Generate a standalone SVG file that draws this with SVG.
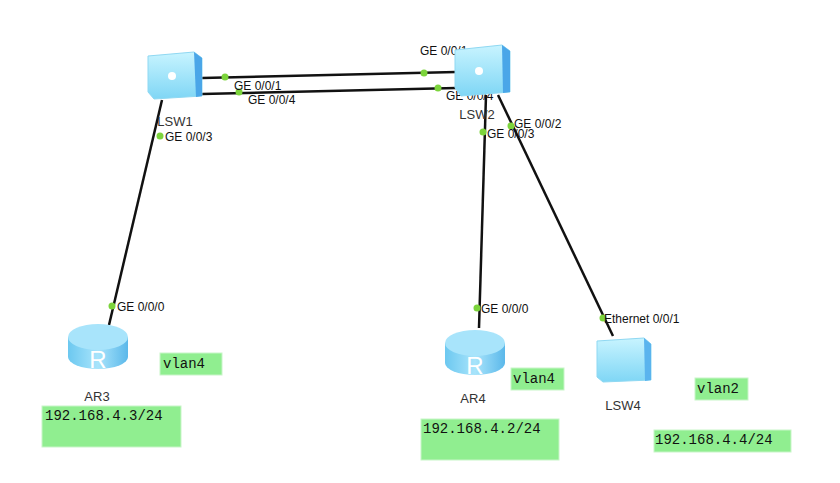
<svg xmlns="http://www.w3.org/2000/svg" width="840" height="483" viewBox="0 0 840 483">
<defs>
<style>
.l{stroke:#111;stroke-width:2.5;fill:none}
.d{fill:#7cd43c}
.t{font-family:"Liberation Sans",Arial,sans-serif;font-size:12px;fill:#111}
.n{font-family:"Liberation Sans",Arial,sans-serif;font-size:13px;fill:#333}
.m{font-family:"Liberation Mono","Courier New",monospace;font-size:14px;fill:#111}
.b{fill:#90ee90;stroke:#c8f5c8}
</style>
<linearGradient id="sw" x1="0" y1="0" x2="0" y2="1"><stop offset="0" stop-color="#c8f4ff"/><stop offset="1" stop-color="#7fd6f5"/></linearGradient>
<linearGradient id="rt" x1="0" y1="0" x2="1" y2="0"><stop offset="0" stop-color="#6cc8f0"/><stop offset="0.5" stop-color="#a8e4fb"/><stop offset="1" stop-color="#5bb8ea"/></linearGradient>
</defs>
<rect width="840" height="483" fill="#fff"/>
<g id="connectors">
<line class="l" x1="202" y1="78" x2="456" y2="72"/>
<line class="l" x1="202" y1="94" x2="456" y2="88"/>
<line class="l" x1="162" y1="100" x2="109" y2="325"/>
<line class="l" x1="486" y1="95" x2="479" y2="328"/>
<line class="l" x1="498" y1="95" x2="613" y2="336"/>
<circle class="d" cx="225" cy="77" r="3.5"/><circle class="d" cx="424" cy="73" r="3.5"/>
<circle class="d" cx="239" cy="92" r="3.5"/><circle class="d" cx="438" cy="88" r="3.5"/>
<circle class="d" cx="160" cy="136" r="3.5"/><circle class="d" cx="112" cy="306" r="3.5"/>
<circle class="d" cx="483" cy="132" r="3.5"/><circle class="d" cx="477" cy="308" r="3.5"/>
<circle class="d" cx="511" cy="126" r="3.5"/><circle class="d" cx="603" cy="318" r="3.5"/>
<text class="t" x="234" y="90">GE 0/0/1</text>
<text class="t" x="248" y="104">GE 0/0/4</text>
<text class="t" x="420" y="55">GE 0/0/1</text>
<text class="t" x="446" y="100">GE 0/0/4</text>
<text class="t" x="165" y="141">GE 0/0/3</text>
<text class="t" x="117" y="311">GE 0/0/0</text>
<text class="t" x="487" y="138">GE 0/0/3</text>
<text class="t" x="514" y="128">GE 0/0/2</text>
<text class="t" x="481" y="313">GE 0/0/0</text>
<text class="t" x="604" y="323">Ethernet 0/0/1</text>
</g>
<g id="LSW1">
<path d="M148 56 L194 52 L202 58 L202 96 L154 99 L148 92 Z" fill="url(#sw)" stroke="#8fd8f2"/>
<path d="M194 52 L202 58 L202 96 L196 97 Z" fill="#4aa6e8"/>
<circle cx="172" cy="76" r="4" fill="#fff"/>
<text class="n" x="175" y="126" text-anchor="middle">LSW1</text>
</g>
<g id="LSW2">
<path d="M455 50 L502 45 L510 51 L510 92 L461 96 L455 88 Z" fill="url(#sw)" stroke="#8fd8f2"/>
<path d="M502 45 L510 51 L510 92 L503 93 Z" fill="#4aa6e8"/>
<circle cx="479" cy="71" r="4" fill="#fff"/>
<text class="n" x="477" y="119" text-anchor="middle">LSW2</text>
</g>
<g id="AR3">
<path d="M68 337 L68 357 A30 12 0 0 0 128 357 L128 337 Z" fill="url(#rt)"/>
<ellipse cx="98" cy="337" rx="30" ry="13" fill="#a8e4fb"/>
<text x="98" y="368" text-anchor="middle" font-family="Liberation Sans,sans-serif" font-size="24" fill="#fff">R</text>
<text class="n" x="97" y="401" text-anchor="middle">AR3</text>
</g>
<g id="AR4">
<path d="M445 343 L445 363 A30 12 0 0 0 505 363 L505 343 Z" fill="url(#rt)"/>
<ellipse cx="475" cy="343" rx="30" ry="13" fill="#a8e4fb"/>
<text x="475" y="374" text-anchor="middle" font-family="Liberation Sans,sans-serif" font-size="24" fill="#fff">R</text>
<text class="n" x="473" y="403" text-anchor="middle">AR4</text>
</g>
<g id="LSW4">
<path d="M597 341 L644 338 L651 344 L651 380 L603 382 L597 377 Z" fill="url(#sw)" stroke="#8fd8f2"/>
<path d="M644 338 L651 344 L651 380 L645 381 Z" fill="#5ab4ee"/>
<text class="n" x="623" y="410" text-anchor="middle">LSW4</text>
</g>
<g id="labels">
<rect class="b" x="160" y="353" width="62" height="22"/><text class="m" x="163" y="368">vlan4</text>
<rect class="b" x="42" y="406" width="139" height="41"/><text class="m" x="45" y="420">192.168.4.3/24</text>
<rect class="b" x="511" y="368" width="53" height="22"/><text class="m" x="513" y="383">vlan4</text>
<rect class="b" x="421" y="419" width="138" height="41"/><text class="m" x="423" y="433">192.168.4.2/24</text>
<rect class="b" x="695" y="378" width="53" height="22"/><text class="m" x="697" y="393">vlan2</text>
<rect class="b" x="654" y="430" width="137" height="22"/><text class="m" x="655" y="444">192.168.4.4/24</text>
</g>
</svg>
